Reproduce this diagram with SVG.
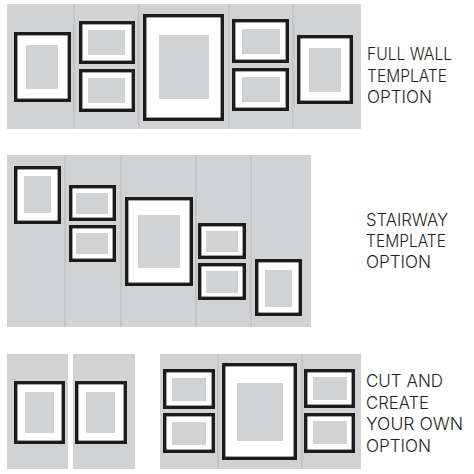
<svg xmlns="http://www.w3.org/2000/svg" width="474" height="474" viewBox="0 0 474 474">
<style>
.p{fill:#d1d2d4}
.d{stroke:#b8b9bc;stroke-width:1}
.f{fill:#ffffff;stroke:#1c1c1c;stroke-width:3.4}
.m{fill:#d1d2d4}
.t{font-family:Inter,"Liberation Sans",Arial,sans-serif;font-weight:300;font-size:17.5px;fill:#231f20}
</style>
<rect width="474" height="474" fill="#ffffff"/>
<g id="walls">
<rect class="p" x="7" y="4" width="354" height="125"/>
<rect class="p" x="7" y="155" width="304" height="172"/>
<rect class="p" x="7" y="354" width="61" height="115"/>
<rect class="p" x="73" y="354" width="62" height="115"/>
<rect class="p" x="160" y="354" width="201" height="115"/>
</g>
<g id="connectors">
<line class="d" x1="74" y1="4" x2="74" y2="129"/>
<line class="d" x1="139" y1="4" x2="139" y2="129"/>
<line class="d" x1="229" y1="4" x2="229" y2="129"/>
<line class="d" x1="293" y1="4" x2="293" y2="129"/>
<line class="d" x1="65" y1="155" x2="65" y2="327"/>
<line class="d" x1="121" y1="155" x2="121" y2="327"/>
<line class="d" x1="196" y1="155" x2="196" y2="327"/>
<line class="d" x1="251" y1="155" x2="251" y2="327"/>
<line class="d" x1="218" y1="354" x2="218" y2="469"/>
<line class="d" x1="302" y1="354" x2="302" y2="469"/>
</g>
<g id="t1"><rect class="f" x="15.7" y="33.7" width="53.6" height="66.6"/><rect class="m" x="26" y="45" width="32" height="44"/></g>
<g id="t2"><rect class="f" x="80.7" y="22.7" width="52.6" height="39.6"/><rect class="m" x="88" y="30" width="37" height="25"/></g>
<g id="t3"><rect class="f" x="80.7" y="70.7" width="52.6" height="39.6"/><rect class="m" x="88" y="78" width="37" height="25"/></g>
<g id="t4"><rect class="f" x="144.7" y="15.7" width="77.6" height="103.6"/><rect class="m" x="159" y="35" width="50" height="64"/></g>
<g id="t5"><rect class="f" x="233.7" y="20.7" width="53.6" height="40.6"/><rect class="m" x="242" y="29" width="38" height="25"/></g>
<g id="t6"><rect class="f" x="233.7" y="69.7" width="53.6" height="39.6"/><rect class="m" x="242" y="77" width="38" height="25"/></g>
<g id="t7"><rect class="f" x="298.7" y="36.7" width="52.6" height="65.6"/><rect class="m" x="309" y="48" width="32" height="44"/></g>
<g id="label-full-wall"><text class="t" x="367" y="60" textLength="85" lengthAdjust="spacingAndGlyphs">FULL WALL</text><text class="t" x="367" y="82" textLength="80" lengthAdjust="spacingAndGlyphs">TEMPLATE</text><text class="t" x="367" y="103" textLength="65" lengthAdjust="spacingAndGlyphs">OPTION</text></g>
<g id="m1"><rect class="f" x="15.7" y="167.7" width="43.6" height="54.6"/><rect class="m" x="24" y="176" width="27" height="37"/></g>
<g id="m2"><rect class="f" x="70.7" y="186.7" width="43.6" height="32.6"/><rect class="m" x="76" y="193" width="32" height="21"/></g>
<g id="m3"><rect class="f" x="70.7" y="226.7" width="43.6" height="33.6"/><rect class="m" x="76" y="233" width="32" height="21"/></g>
<g id="m4"><rect class="f" x="126.7" y="198.7" width="64.6" height="85.6"/><rect class="m" x="138" y="215" width="42" height="53"/></g>
<g id="m5"><rect class="f" x="199.7" y="224.7" width="44.6" height="32.6"/><rect class="m" x="206" y="231" width="32" height="21"/></g>
<g id="m6"><rect class="f" x="199.7" y="264.7" width="44.6" height="33.6"/><rect class="m" x="206" y="271" width="32" height="22"/></g>
<g id="m7"><rect class="f" x="256.7" y="260.7" width="43.6" height="53.6"/><rect class="m" x="265" y="270" width="27" height="37"/></g>
<g id="label-stairway"><text class="t" x="366" y="226" textLength="82" lengthAdjust="spacingAndGlyphs">STAIRWAY</text><text class="t" x="366" y="247" textLength="80" lengthAdjust="spacingAndGlyphs">TEMPLATE</text><text class="t" x="366" y="268" textLength="65" lengthAdjust="spacingAndGlyphs">OPTION</text></g>
<g id="b1"><rect class="f" x="15.7" y="382.7" width="47.6" height="59.6"/><rect class="m" x="25" y="392" width="29" height="41"/></g>
<g id="b2"><rect class="f" x="76.7" y="382.7" width="48.6" height="59.6"/><rect class="m" x="86" y="392" width="29" height="41"/></g>
<g id="b3"><rect class="f" x="164.7" y="370.7" width="48.6" height="36.6"/><rect class="m" x="172" y="378" width="34" height="23"/></g>
<g id="b4"><rect class="f" x="164.7" y="414.7" width="48.6" height="36.6"/><rect class="m" x="172" y="422" width="34" height="23"/></g>
<g id="b5"><rect class="f" x="223.7" y="364.7" width="71.6" height="93.6"/><rect class="m" x="237" y="383" width="46" height="58"/></g>
<g id="b6"><rect class="f" x="305.7" y="370.7" width="47.6" height="35.6"/><rect class="m" x="313" y="377" width="34" height="23"/></g>
<g id="b7"><rect class="f" x="305.7" y="414.7" width="47.6" height="36.6"/><rect class="m" x="313" y="421" width="34" height="23"/></g>
<g id="label-cut"><text class="t" x="366" y="387" textLength="77" lengthAdjust="spacingAndGlyphs">CUT AND</text><text class="t" x="366" y="409" textLength="63" lengthAdjust="spacingAndGlyphs">CREATE</text><text class="t" x="366" y="430" textLength="97" lengthAdjust="spacingAndGlyphs">YOUR OWN</text><text class="t" x="366" y="452" textLength="65" lengthAdjust="spacingAndGlyphs">OPTION</text></g>
</svg>
